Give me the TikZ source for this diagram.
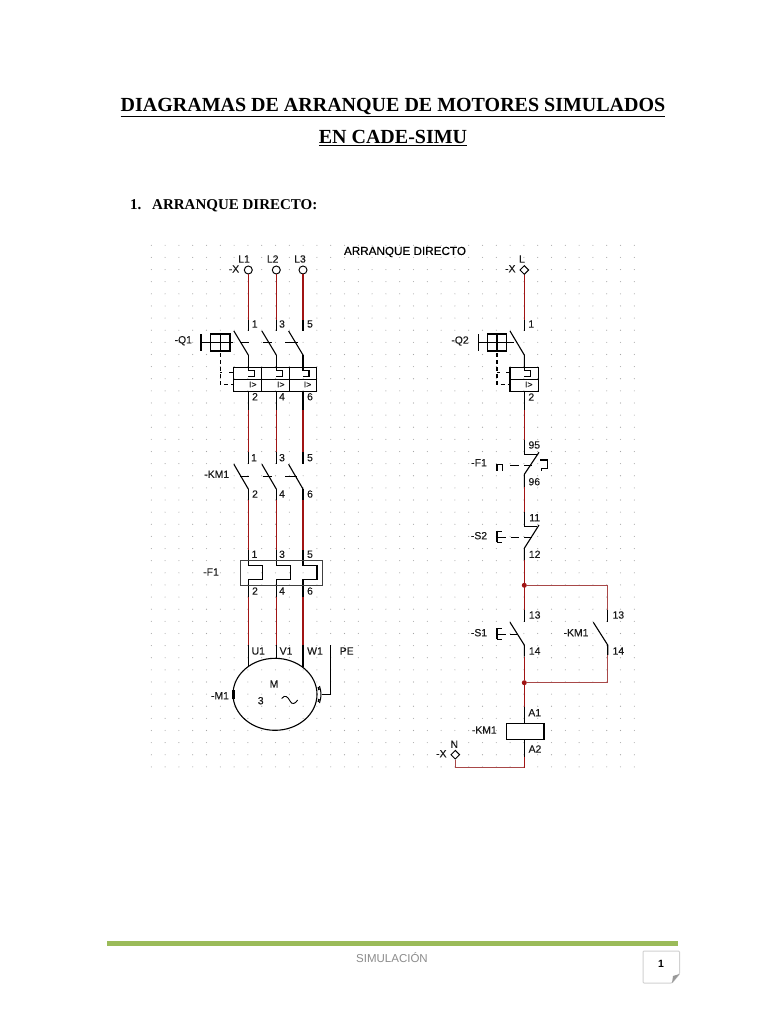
\documentclass[tikz,border=0pt]{standalone}
\usepackage{fontspec}
\setmainfont{Liberation Serif}
\setsansfont{Liberation Sans}
\newfontfamily\labfont[FakeBold=0.25]{Liberation Sans}
\usetikzlibrary{shapes.geometric}
\definecolor{wirered}{HTML}{A01414}
\definecolor{loopred}{HTML}{A84848}
\definecolor{bargreen}{HTML}{9BBB59}
\tikzset{
  wire/.style={wirered,line width=1.5pt},
  wirek/.style={black,line width=1.1pt},
  wirel/.style={loopred,line width=1.5pt},
  dashk/.style={black,line width=0.95pt},
  boxk/.style={draw=black,line width=1.1pt},
  lab/.style={font=\labfont\fontsize{10.4}{10}\selectfont,text=black!90,inner sep=0pt},
  term/.style={draw=black,line width=0.95pt,fill=white,inner sep=0pt,minimum size=8pt},
  dot/.style={fill=black!35},
}
\begin{document}
\begin{tikzpicture}[x=1pt,y=-1pt]
\useasboundingbox (0,0) rectangle (768,1024);
\fill[white] (0,0) rectangle (768,1024);
% titles
\node[inner sep=0pt,font=\rmfamily\bfseries\fontsize{20}{20}\selectfont] (title1) at (393,108) {\underline{DIAGRAMAS DE ARRANQUE DE MOTORES SIMULADOS}};
\node[inner sep=0pt,font=\rmfamily\bfseries\fontsize{20}{20}\selectfont] (title2) at (393,138) {\underline{EN CADE-SIMU}};
\node[inner sep=0pt,anchor=base west,font=\rmfamily\bfseries\fontsize{15}{15}\selectfont] (num) at (130,210) {1.};
\node[inner sep=0pt,anchor=base west,font=\rmfamily\bfseries\fontsize{15}{15}\selectfont] (sec) at (152,210) {ARRANQUE DIRECTO:};
% grid
\foreach \i in {0,...,35}{\foreach \j in {0,...,43}{
  \fill[dot] ({151.3+13.8*\i},{245.3+12.13*\j}) circle (0.55);
}}
\node[inner sep=0pt,font=\labfont\fontsize{11.7}{12}\selectfont] (dtitle) at (405,252) {ARRANQUE DIRECTO};
% --- power circuit ---
\foreach \x/\w/\r/\n in {248.3/1.1/1.5/1, 276.3/1.1/1.5/2, 303/2/2.2/3}{
  \node[term,circle] (tp\n) at (\x,270) {};
  \draw[wire,line width=\r pt] (tp\n.south) -- (\x,320);
  \draw[wirek,line width=\w pt] (\x,320) -- (\x,331);
  \draw[wirek] (\x-14.4,331) -- (\x,355);
  \draw[wirek,line width=\w pt] (\x,355) -- (\x,368);
  \draw[wirek] (\x,368) -- (\x,370.5) -- (\x+6,370.5) -- (\x+6,376.5) -- (\x,376.5);
  \draw[wirek,line width=\w pt] (\x,392) -- (\x,410);
  \draw[wire,line width=\r pt] (\x,410) -- (\x,452);
  \draw[wirek,line width=\w pt] (\x,452) -- (\x,464.3);
  \draw[wirek] (\x-14.4,464.3) -- (\x,489);
  \draw[wirek,line width=\w pt] (\x,489) -- (\x,500);
  \draw[wire,line width=\r pt] (\x,500) -- (\x,550);
  \draw[wirek,line width=\w pt] (\x,550) -- (\x,565.7);
  \draw[wirek] (\x,565.7) -- (\x+14,565.7) -- (\x+14,579.3) -- (\x,579.3);
  \draw[wirek,line width=\w pt] (\x,579.3) -- (\x,597);
  \draw[wire,line width=\r pt] (\x,597) -- (\x,645);
  \node[lab,font=\labfont\fontsize{8.5}{8}\selectfont] (ig\n) at (\x+4.5,384.5) {I>};
}
\draw[boxk] (233.3,367.7) rectangle (316.7,391.7);
\draw[boxk] (233.3,379.3) -- (316.7,379.3);
\draw[boxk] (261.7,367.7) -- (261.7,391.7) (289.3,367.7) -- (289.3,391.7);
% Q1 handle
\draw[boxk] (201,334.3) -- (201,350.7);
\draw[boxk] (201,342.7) -- (232.7,342.7);
\draw[boxk] (210.7,334) rectangle (230,351);
\draw[boxk] (220.3,334) -- (220.3,351);
\draw[dashk] (240,342.7) -- (248.7,342.7) (263.3,342.7) -- (271.6,342.7) (285,342.7) -- (298,342.7);
\draw[dashk,dash pattern=on 4pt off 3pt] (220.3,353) -- (220.3,384.3) -- (233,384.3);
\draw[dashk] (220.3,372.7) -- (222,372.7) (229,372.7) -- (233,372.7);
% KM1 dashes
\draw[dashk] (240,476) -- (249.3,476) (262.7,476) -- (272.3,476) (285,476) -- (296.7,476);
% F1 box
\draw[boxk,draw=black!75] (240.7,560.7) rectangle (322.7,585.7);
% motor
\node[draw=black,line width=1.1pt,ellipse,minimum width=84pt,minimum height=72pt,inner sep=0pt] (motor) at (275,694.3) {};
\draw[wirek] (248.3,645) -- (248.3,667);
\draw[wirek] (276.3,645) -- (276.3,658.3);
\draw[wirek,line width=2pt] (303,645) -- (303,667);
\draw[wirek] (330.7,645) -- (330.7,694.3) coordinate (pe) -- (321.7,694.3);
\draw[black,line width=2.2pt] (233.5,690) -- (233.5,699);
\draw[black,line width=1pt] (319.5,686) .. controls (321.5,692) and (321.5,697) .. (319.5,703);
\draw[black,line width=1.6pt] (318.4,687) -- (319,690) (319,699) -- (318.4,702);
\draw[black,line width=0.9pt] (281.7,698.5) .. controls (285,694) and (288,697) .. (290,701) .. controls (292,705) and (295,704) .. (297.7,700);
% power labels
\foreach \t/\xx/\yy/\n in {L1/244/259/a,L2/272.7/259/b,L3/300/259/c,-X/234/269/d,1/254.7/324/e,3/282/324/f,5/310/324/g,-Q1/183.3/340.7/h,2/255/396.7/i,4/282/396.7/j,6/310/396.7/k,1/254/457.7/l,3/282/457.7/m,5/310/457.7/n,2/255/494/o,4/282/494/p,6/310/494/q,-KM1/216.7/474.3/r,1/254.5/554.3/s,3/282/554.3/t,5/310/554.3/u,2/255/591/v,4/282/591/w,6/310/591/x,-F1/211/572/y,U1/258.3/651/z,V1/286/651/aa,W1/315/651/ab,PE/346.7/651/ac,-M1/220/695.7/ad,M/274/684/ae,3/260.7/700.7/af}{
  \node[lab] (pl\n) at (\xx,\yy) {\t};
}
% --- control circuit ---
\node[term,diamond,minimum size=9pt] (tl) at (524.3,270) {};
\draw[wire] (tl.south) -- (524.3,320);
\draw[wirek] (524.3,320) -- (524.3,331);
\draw[wirek] (510,331) -- (524.3,355) -- (524.3,368);
\draw[wirek] (524.3,368) -- (524.3,370.5) -- (530.3,370.5) -- (530.3,376.5) -- (524.3,376.5);
\draw[boxk] (510,367.7) rectangle (538.7,391.7);
\draw[boxk] (510,379.3) -- (538.7,379.3);
\node[lab,font=\labfont\fontsize{8.5}{8}\selectfont] (igq) at (528.8,384.5) {I>};
% Q2 handle
\draw[boxk] (478.3,334.3) -- (478.3,350.7);
\draw[boxk] (478.3,342.7) -- (514.3,342.7);
\draw[boxk] (487.3,334) rectangle (506.7,351);
\draw[black,line width=1.6pt] (497,334) -- (497,351);
\draw[black,line width=1.3pt,dash pattern=on 4pt off 3pt] (497,353) -- (497,384.3) -- (510,384.3);
\draw[dashk] (497,372.7) -- (499.5,372.7) (506,372.7) -- (510,372.7);
% wire down
\draw[wirek] (524.3,392) -- (524.3,410);
\draw[wire] (524.3,410) -- (524.3,440);
% F1 NC contact
\draw[wirek] (524.3,440) -- (524.3,454.3) -- (537,454.3);
\draw[wirek] (539,452.3) -- (524.3,474.3) -- (524.3,487);
\draw[dashk] (510,465) -- (519,465) (524,465) -- (531.7,465);
\draw[black,line width=1.6pt] (496.7,464.5) -- (496.7,471);
\draw[dashk] (496,464.5) -- (502.7,464.5) -- (502.7,471);
\draw[wirek] (540,460) -- (547.7,460) -- (547.7,468.3) -- (541.7,468.3) -- (541.7,471);
\draw[wire] (524.3,487) -- (524.3,512);
% S2 NC contact
\draw[wirek] (524.3,512) -- (524.3,526.7) -- (536.7,526.7);
\draw[wirek] (539,525) -- (524.3,548.3) -- (524.3,560);
\draw[dashk] (510.7,537) -- (519,537) (524.3,537) -- (531.7,537);
\draw[black,line width=1.6pt] (496.7,530.7) -- (496.7,542.3);
\draw[dashk] (496.7,531) -- (501.7,531) (496.7,542) -- (501.7,542) (496.7,537) -- (506,537);
\draw[wire] (524.3,560) -- (524.3,610);
\node[circle,fill=wirered,inner sep=0pt,minimum size=5pt] (j1) at (524.3,585.3) {};
\draw[wirel] (j1) -- (607.7,585.3) -- (607.7,610);
% S1
\draw[wirek] (524.3,610) -- (524.3,621.7);
\draw[wirek] (510,622.3) -- (524.3,645) -- (524.3,656.7);
\draw[dashk] (510,634) -- (518.3,634);
\draw[black,line width=1.6pt] (496.7,628.3) -- (496.7,639.3);
\draw[dashk] (496.7,628.5) -- (501.7,628.5) (496.7,639) -- (501.7,639) (496.7,634) -- (506,634);
% KM1 aux
\draw[wirek] (607.7,610) -- (607.7,621.7);
\draw[wirek] (593.3,622.3) -- (607.7,645) -- (607.7,655);
% lower
\node[circle,fill=wirered,inner sep=0pt,minimum size=5pt] (j2) at (524.3,682.7) {};
\draw[wire] (524.3,656.7) -- (j2);
\draw[wirel] (607.7,655) -- (607.7,682.7) -- (j2);
\draw[wire] (j2) -- (524.3,706.7);
\draw[wirek] (524.3,706.7) -- (524.3,723.3);
\node[draw=black,line width=1.1pt,fill=white,inner sep=0pt,minimum width=37pt,minimum height=15.7pt] (coil) at (524.8,731.2) {};
\draw[black,line width=2pt] (coil.north east) -- (coil.south east);
\draw[wirek] (524.3,739) -- (524.3,756.7);
\node[term,diamond,minimum size=9pt] (tn) at (455.3,754.7) {};
\draw[wire] (524.3,756.7) -- (524.3,767.7);
\draw[wirel] (524.3,767.7) -- (455.3,767.7) -- (tn.south);
% control labels
\foreach \t/\xx/\yy/\n in {L/522/259/a,-X/510.3/268.7/b,1/531.3/324/c,-Q2/460/341/d,2/531.3/397/e,95/534.3/445/f,-F1/479/462.7/g,96/534.3/481.7/h,11/534.7/517.7/i,12/534.7/554.3/j,-S2/479/535.7/k,13/534.7/615/l,14/534.7/651/m,-S1/479/632.7/n,-KM1/576/632.7/o,13/618.3/615/p,14/618.3/651/q,A1/534.7/712.7/r,A2/535/749/s,-KM1/484.3/730/t,N/454.3/744.3/u,-X/441.3/753.7/v}{
  \node[lab] (cl\n) at (\xx,\yy) {\t};
}
% footer
\fill[bargreen] (107,940.5) rectangle (678,945.5);
\node[inner sep=0pt,text=black!45,font=\sffamily\fontsize{11.5}{12}\selectfont] (foot) at (392,958) {SIMULACIÓN};
\draw[black!18,line width=1pt,rounded corners=1pt] (643,951) -- (679.5,951) -- (679.5,974) -- (672,983) -- (643,983) -- cycle;
\fill[black!40] (679.5,974) -- (672,983) -- (673,976) -- cycle;
\node[inner sep=0pt,font=\sffamily\bfseries\fontsize{10.5}{11}\selectfont] (pg) at (661,964) {1};
\end{tikzpicture}
\end{document}
